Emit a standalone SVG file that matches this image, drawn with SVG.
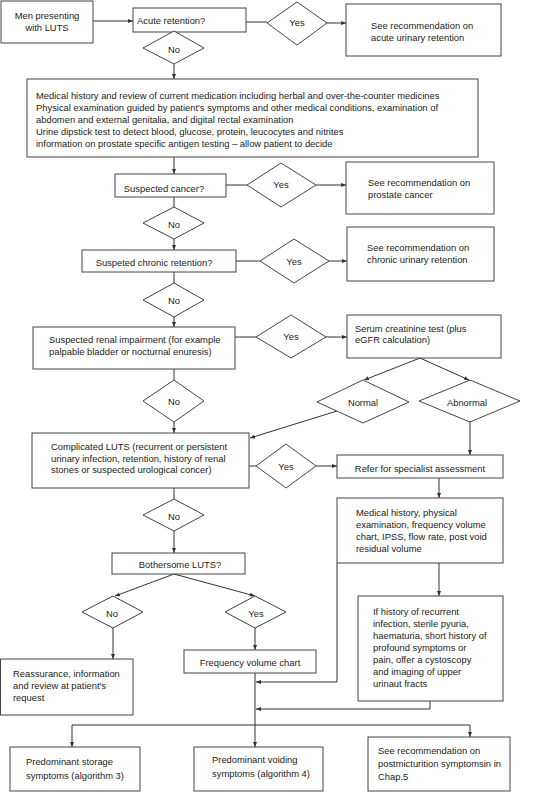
<svg xmlns="http://www.w3.org/2000/svg" width="555" height="792" viewBox="0 0 555 792">
<defs>
<marker id="ah" viewBox="0 0 10 10" refX="10" refY="5" markerWidth="5" markerHeight="5" orient="auto" markerUnits="userSpaceOnUse">
<path d="M0,1 L10,5 L0,9 z" fill="#333"/>
</marker>
<style>
.box{fill:#fff;stroke:#444;stroke-width:1}
.t{font-family:"Liberation Sans",Arial,sans-serif;font-size:9.4px;fill:#222}
.c{text-anchor:middle}
.ln{fill:none;stroke:#333;stroke-width:1}
.ar{fill:none;stroke:#333;stroke-width:1;marker-end:url(#ah)}
</style>
</defs>
<rect width="555" height="792" fill="#fff"/>

<g id="connectors">
<path class="ar" d="M93,21 H133"/>
<path class="ln" d="M246,22 H267"/>
<path class="ar" d="M327,23 H346"/>
<path class="ar" d="M174,64 V79"/>
<path class="ar" d="M174,157 V174"/>
<path class="ln" d="M226,185 H247"/>
<path class="ar" d="M316,185 H346"/>
<path class="ln" d="M174,197 V207"/>
<path class="ar" d="M174,239 V250"/>
<path class="ln" d="M236,261 H260"/>
<path class="ar" d="M329,261 H347"/>
<path class="ln" d="M174,272 V283"/>
<path class="ar" d="M174,317 V327"/>
<path class="ln" d="M235,337 H256"/>
<path class="ar" d="M326,337 H347"/>
<path class="ln" d="M174,369 V380"/>
<path class="ar" d="M174,422 V433"/>
<path class="ar" d="M420,358 L364,380"/>
<path class="ar" d="M420,358 L469,380"/>
<path class="ar" d="M337,411 L250,438"/>
<path class="ar" d="M470,422 V455"/>
<path class="ln" d="M249,466 H256"/>
<path class="ar" d="M316,466 H337"/>
<path class="ln" d="M174,488 V499"/>
<path class="ar" d="M174,531 V553"/>
<path class="ar" d="M439,478 V498"/>
<path class="ar" d="M439,563 V596"/>
<path class="ar" d="M337,563 V682 H256"/>
<path class="ar" d="M430,701 V709 H256"/>
<path class="ar" d="M174,574 L115,596"/>
<path class="ar" d="M174,574 L255,596"/>
<path class="ar" d="M113,628 V659"/>
<path class="ar" d="M255,628 V650"/>
<path class="ar" d="M255,673 V747"/>
<path class="ln" d="M72,725 H470"/>
<path class="ar" d="M72,725 V747"/>
<path class="ar" d="M470,725 V737"/>
</g>

<g id="start">
<rect class="box" x="1" y="1" width="92" height="42"/>
<text class="t c" x="47" y="18.5">Men presenting</text>
<text class="t c" x="47" y="30.5">with LUTS</text>
</g>
<g id="acute">
<rect class="box" x="133" y="8" width="113" height="24"/>
<text class="t" x="137" y="24">Acute retention?</text>
</g>
<g id="acute-yes">
<polygon class="box" points="297,2 327,23 297,45 267,23"/>
<text class="t c" x="297" y="25.5">Yes</text>
</g>
<g id="acute-rec">
<rect class="box" x="346" y="4" width="155" height="52"/>
<text class="t" x="371" y="28.5">See recommendation on</text>
<text class="t" x="371" y="40.5">acute urinary retention</text>
</g>
<g id="acute-no">
<polygon class="box" points="174,31 204,48 174,64 143,48"/>
<text class="t c" x="174" y="53">No</text>
</g>
<g id="assessment">
<rect class="box" x="27" y="79" width="451" height="78"/>
<text class="t" x="36" y="98.5">Medical history and review of current medication including herbal and over-the-counter medicines</text>
<text class="t" x="36" y="110.5">Physical examination guided by patient's symptoms and other medical conditions, examination of</text>
<text class="t" x="36" y="122.5">abdomen and external genitalia, and digital rectal examination</text>
<text class="t" x="36" y="134.5">Urine dipstick test to detect blood, glucose, protein, leucocytes and nitrites</text>
<text class="t" x="36" y="146.5">information on prostate specific antigen testing – allow patient to decide</text>
</g>
<g id="cancer">
<rect class="box" x="115" y="174" width="111" height="23"/>
<text class="t c" x="164" y="191.5">Suspected cancer?</text>
</g>
<g id="cancer-yes">
<polygon class="box" points="281,163 316,185 281,207 247,185"/>
<text class="t c" x="281" y="187.5">Yes</text>
</g>
<g id="cancer-rec">
<rect class="box" x="346" y="162" width="148" height="52"/>
<text class="t" x="368" y="185.5">See recommendation on</text>
<text class="t" x="368" y="197.5">prostate cancer</text>
</g>
<g id="cancer-no">
<polygon class="box" points="174,207 204,223 174,239 143,223"/>
<text class="t c" x="174" y="228">No</text>
</g>
<g id="chronic">
<rect class="box" x="82" y="250" width="154" height="22"/>
<text class="t c" x="154" y="265.5">Suspeted chronic retention?</text>
</g>
<g id="chronic-yes">
<polygon class="box" points="294,239 329,261 294,283 260,261"/>
<text class="t c" x="294" y="264.5">Yes</text>
</g>
<g id="chronic-rec">
<rect class="box" x="347" y="227" width="147" height="54"/>
<text class="t" x="367" y="250.5">See recommendation on</text>
<text class="t" x="367" y="262.5">chronic urinary retention</text>
</g>
<g id="chronic-no">
<polygon class="box" points="174,283 204,300 174,317 143,300"/>
<text class="t c" x="174" y="303.5">No</text>
</g>
<g id="renal">
<rect class="box" x="33" y="327" width="202" height="42"/>
<text class="t" x="49" y="342.5">Suspected renal impairment (for example</text>
<text class="t" x="49" y="354.5">palpable bladder or nocturnal enuresis)</text>
</g>
<g id="renal-yes">
<polygon class="box" points="291,315 326,337 291,358 256,337"/>
<text class="t c" x="291" y="339.5">Yes</text>
</g>
<g id="serum">
<rect class="box" x="347" y="315" width="154" height="43"/>
<text class="t" x="355" y="331.5">Serum creatinine test (plus</text>
<text class="t" x="355" y="343">eGFR calculation)</text>
</g>
<g id="normal">
<polygon class="box" points="363,380 409,402 363,423 317,402"/>
<text class="t c" x="363" y="406">Normal</text>
</g>
<g id="abnormal">
<polygon class="box" points="470,380 520,401 470,422 419,401"/>
<text class="t c" x="467" y="406">Abnormal</text>
</g>
<g id="renal-no">
<polygon class="box" points="174,380 204,401 174,422 143,401"/>
<text class="t c" x="174" y="404.5">No</text>
</g>
<g id="complicated">
<rect class="box" x="32" y="433" width="217" height="55"/>
<text class="t" x="51" y="450">Complicated LUTS (recurrent or persistent</text>
<text class="t" x="51" y="461.5">urinary infection, retention, history of renal</text>
<text class="t" x="51" y="473">stones or suspected urological concer)</text>
</g>
<g id="complicated-yes">
<polygon class="box" points="286,444 316,466 286,488 256,466"/>
<text class="t c" x="286" y="470">Yes</text>
</g>
<g id="refer">
<rect class="box" x="337" y="455" width="166" height="23"/>
<text class="t c" x="420" y="471.5">Refer for specialist assessment</text>
</g>
<g id="specialist-history">
<rect class="box" x="337" y="498" width="166" height="65"/>
<text class="t" x="356" y="515.5">Medical history, physical</text>
<text class="t" x="356" y="527.5">examination, frequency volume</text>
<text class="t" x="356" y="539.5">chart, IPSS, flow rate, post void</text>
<text class="t" x="356" y="551.5">residual volume</text>
</g>
<g id="cystoscopy">
<rect class="box" x="358" y="596" width="145" height="105"/>
<text class="t" x="373" y="614.5">If history of recurrent</text>
<text class="t" x="373" y="626.5">infection, sterile pyuria,</text>
<text class="t" x="373" y="638.5">haematuria, short history of</text>
<text class="t" x="373" y="650.5">profound symptoms or</text>
<text class="t" x="373" y="662.5">pain, offer a cystoscopy</text>
<text class="t" x="373" y="674.5">and imaging of upper</text>
<text class="t" x="373" y="686.5">urinaut fracts</text>
</g>
<g id="complicated-no">
<polygon class="box" points="174,499 204,515 174,531 143,515"/>
<text class="t c" x="174" y="520">No</text>
</g>
<g id="bothersome">
<rect class="box" x="112" y="553" width="133" height="21"/>
<text class="t c" x="180" y="567.5">Bothersome LUTS?</text>
</g>
<g id="bothersome-no">
<polygon class="box" points="113,596 143,612 113,628 82,612"/>
<text class="t c" x="112" y="616.5">No</text>
</g>
<g id="bothersome-yes">
<polygon class="box" points="255,596 286,612 255,628 225,612"/>
<text class="t c" x="256" y="616.5">Yes</text>
</g>
<g id="reassurance">
<rect class="box" x="0.5" y="659" width="132.5" height="56"/>
<text class="t" x="13" y="676.5">Reassurance, information</text>
<text class="t" x="13" y="688.5">and review at patient's</text>
<text class="t" x="13" y="700.5">request</text>
</g>
<g id="fvc">
<rect class="box" x="184" y="650" width="132" height="23"/>
<text class="t c" x="250" y="665.5">Frequency volume chart</text>
</g>
<g id="storage">
<rect class="box" x="10" y="747" width="130" height="44"/>
<text class="t" x="26" y="765">Predominant storage</text>
<text class="t" x="26" y="779">symptoms (algorithm 3)</text>
</g>
<g id="voiding">
<rect class="box" x="194" y="747" width="129" height="44"/>
<text class="t" x="212" y="762.5">Predominant voiding</text>
<text class="t" x="212" y="776.5">symptoms (algorithm 4)</text>
</g>
<g id="postmicturition">
<rect class="box" x="368" y="737" width="142" height="54"/>
<text class="t" x="378" y="753.5">See recommendation on</text>
<text class="t" x="378" y="766.5">postmicturition symptomsin in</text>
<text class="t" x="378" y="779.5">Chap.5</text>
</g>
</svg>
